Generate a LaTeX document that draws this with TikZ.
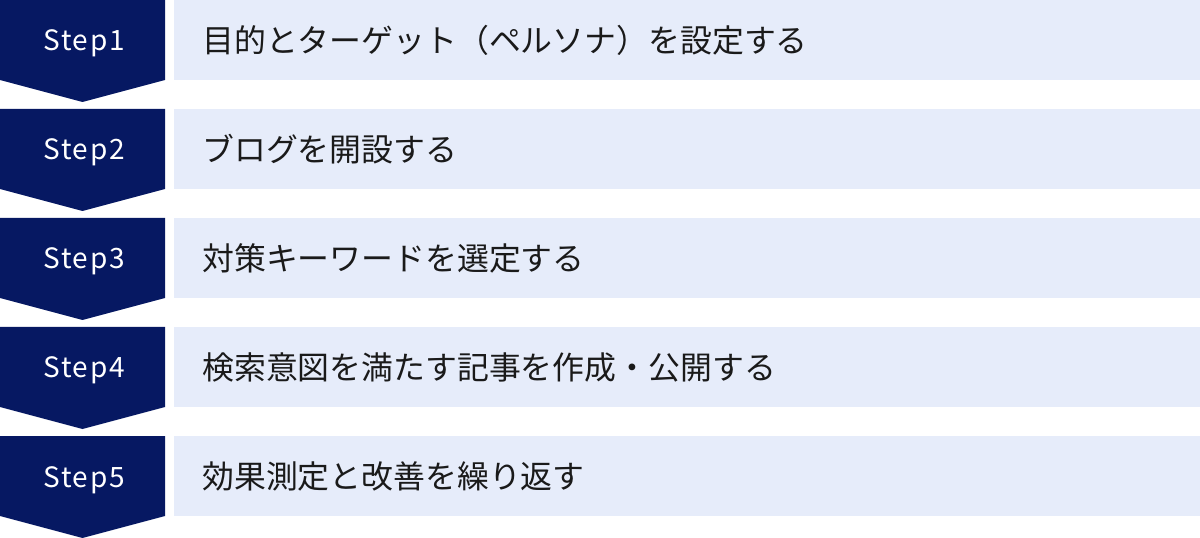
\documentclass[tikz,border=0pt]{standalone}
\usepackage{fontspec}
\setmainfont{Noto Sans CJK JP}
\newfontfamily\stepfont[LetterSpace=6]{Noto Sans CJK JP}
\definecolor{navy}{RGB}{6,24,98}
\definecolor{lightbg}{RGB}{230,236,250}
\definecolor{txt}{RGB}{26,26,26}
\begin{document}
\begin{tikzpicture}[x=0.75pt,y=-0.75pt,
  stepshape/.style={fill=navy},
  barbox/.style={fill=lightbg},
  steplabel/.style={text=white,font=\stepfont\fontsize{21pt}{24pt}\selectfont,anchor=base,inner sep=0pt},
  desclabel/.style={text=txt,font=\fontsize{23.9pt}{28pt}\selectfont,anchor=west,inner sep=0pt}]
\useasboundingbox (0,0) rectangle (1200,538);
\foreach \i/\t in {1/目的とターゲット（ペルソナ）を設定する,2/ブログを開設する,3/対策キーワードを選定する,4/検索意図を満たす記事を作成・公開する,5/効果測定と改善を繰り返す}{
  \pgfmathsetmacro{\y}{(\i-1)*109}
  \fill[stepshape] (0,\y) -- (165,\y) -- (165,\y+80) -- (82.5,\y+102) -- (0,\y+80) -- cycle;
  \fill[barbox] (174,\y) rectangle (1200,\y+80);
  \node[steplabel] (s\i) at (84,\y+51) {Step\i};
  \node[desclabel] (d\i) at (202,\y+40) {\t};
}
\end{tikzpicture}
\end{document}
